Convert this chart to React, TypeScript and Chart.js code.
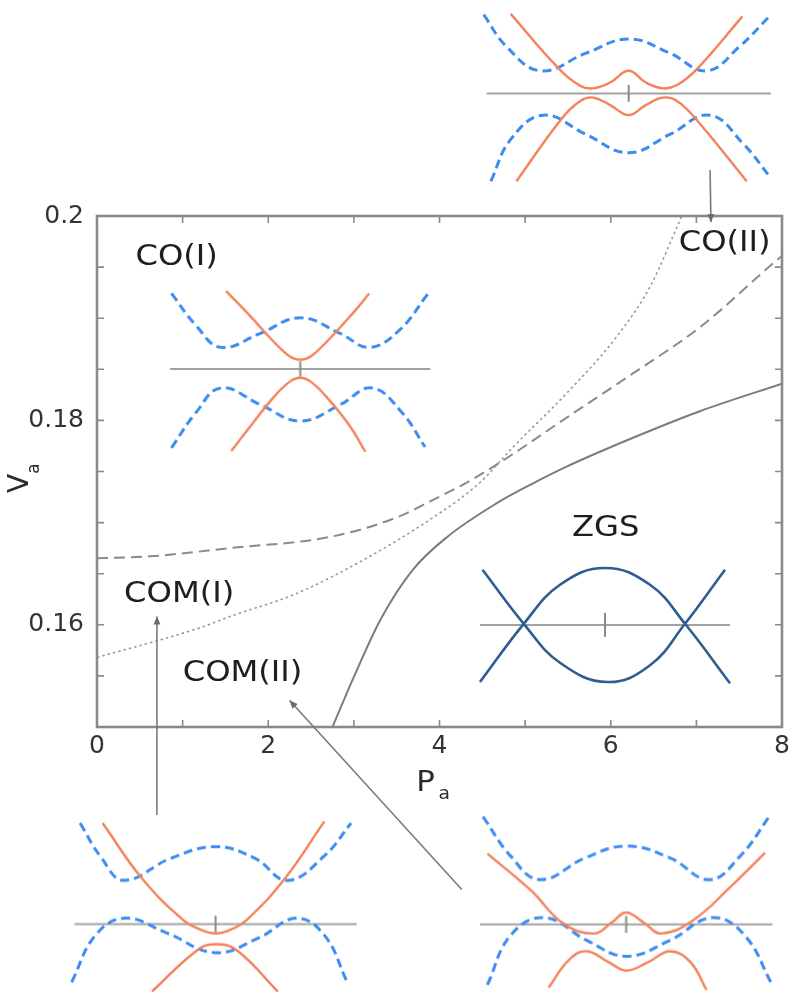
import React, { useEffect, useRef } from "react";
import { Chart, registerables } from "chart.js";
Chart.register(...registerables);

// ---------- main chart data ----------
const P_SOLID = [2.75, 3.0, 3.31, 3.69, 4.09, 4.67, 5.06, 5.49, 6.26, 7.04, 8.0];
const V_SOLID = [0.15, 0.1549, 0.1605, 0.1654, 0.1686, 0.1719, 0.1737, 0.1755, 0.1783, 0.1809, 0.1836];

const P_DASH = [0, 0.62, 1.55, 2.72, 3.5, 3.92, 4.27, 4.71, 5.49, 6.26, 7.04, 7.9, 8.0];
const V_DASH = [0.1665, 0.1667, 0.1675, 0.1686, 0.1705, 0.1722, 0.1737, 0.1759, 0.1803, 0.1846, 0.1891, 0.1954, 0.1961];

const P_DOT = [0, 1.2, 1.55, 2.34, 3.1, 3.89, 4.47, 4.86, 5.49, 6.07, 6.46, 6.83];
const V_DOT = [0.1568, 0.1597, 0.1608, 0.1631, 0.1663, 0.1703, 0.1739, 0.1774, 0.1827, 0.1882, 0.1931, 0.2];

const X_LABEL_TICKS = [0, 2, 4, 6, 8];
const Y_LABEL_TICKS = [0.16, 0.18, 0.2];
const X_MINOR_TICKS = [1, 2, 3, 4, 5, 6, 7];
const Y_MINOR_TICKS = [0.155, 0.16, 0.165, 0.17, 0.175, 0.18, 0.185, 0.19, 0.195];

const REGION_LABELS = [
  { text: "CO(I)", p: 0.93, v: 0.1959 },
  { text: "CO(II)", p: 7.33, v: 0.1973 },
  { text: "COM(I)", p: 0.96, v: 0.1629 },
  { text: "COM(II)", p: 1.7, v: 0.1552 },
  { text: "ZGS", p: 5.94, v: 0.1694 },
];

const ARROWS = [
  { from: [0.7, 0.1414], to: [0.7, 0.1608] },
  { from: [4.26, 0.1341], to: [2.25, 0.1526] },
  { from: [7.16, 0.2045], to: [7.17, 0.1994] },
];

// ---------- inset band sketches (k, E) ----------
const INSET_LINE = [[-1, 0], [1, 0]];
const INSET_TICK = [[0, -0.1], [0, 0.1]];
const ZGS_TICK = [[0, -0.2], [0, 0.2]];

const CO1_BLUE_UP = [[-0.99, 0.96], [-0.8, 0.55], [-0.61, 0.275], [-0.31, 0.45], [0, 0.65], [0.31, 0.45], [0.53, 0.275], [0.76, 0.49], [0.98, 0.95]];
const CO1_BLUE_DN = [[-0.99, -1.0], [-0.8, -0.55], [-0.61, -0.24], [-0.31, -0.45], [0, -0.66], [0.31, -0.45], [0.55, -0.24], [0.78, -0.55], [0.96, -0.99]];
const CO1_ORANGE_UP = [[-0.57, 0.99], [-0.4, 0.7], [-0.2, 0.34], [-0.08, 0.16], [0, 0.12], [0.08, 0.16], [0.2, 0.34], [0.4, 0.7], [0.53, 0.96]];
const CO1_ORANGE_DN = [[-0.53, -1.04], [-0.38, -0.72], [-0.2, -0.35], [-0.08, -0.16], [0, -0.11], [0.08, -0.16], [0.2, -0.35], [0.38, -0.72], [0.5, -1.05]];

const CO2_BLUE_UP = [[-1.02, 0.94], [-0.86, 0.56], [-0.62, 0.27], [-0.3, 0.48], [0, 0.65], [0.29, 0.48], [0.55, 0.27], [0.78, 0.56], [0.99, 0.92]];
const CO2_BLUE_DN = [[-0.97, -1.05], [-0.83, -0.55], [-0.6, -0.26], [-0.3, -0.49], [0, -0.71], [0.29, -0.49], [0.57, -0.26], [0.81, -0.61], [0.99, -0.99]];
const CO2_ORANGE_UP = [[-0.83, 0.95], [-0.5, 0.31], [-0.34, 0.09], [-0.25, 0.06], [-0.13, 0.13], [0, 0.27], [0.12, 0.13], [0.24, 0.06], [0.34, 0.1], [0.48, 0.29], [0.8, 0.92]];
const CO2_ORANGE_DN = [[-0.79, -1.05], [-0.48, -0.32], [-0.34, -0.09], [-0.25, -0.05], [-0.13, -0.14], [0, -0.26], [0.12, -0.14], [0.24, -0.05], [0.34, -0.09], [0.48, -0.32], [0.83, -1.05]];

const COM1_BLUE_UP = [[-0.96, 1.2], [-0.81, 0.79], [-0.65, 0.52], [-0.32, 0.78], [0, 0.92], [0.28, 0.78], [0.51, 0.52], [0.77, 0.81], [0.96, 1.2]];
const COM1_BLUE_DN = [[-1.02, -0.69], [-0.85, -0.13], [-0.64, 0.07], [-0.34, -0.11], [0, -0.34], [0.31, -0.16], [0.57, 0.07], [0.77, -0.13], [0.93, -0.68]];
const COM1_ORANGE_UP = [[-0.8, 1.2], [-0.52, 0.54], [-0.23, 0.05], [-0.1, -0.07], [0, -0.11], [0.1, -0.07], [0.22, 0.05], [0.49, 0.54], [0.77, 1.22]];
const COM1_ORANGE_DN = [[-0.45, -0.8], [-0.13, -0.31], [0, -0.24], [0.15, -0.31], [0.44, -0.8]];

const COM2_BLUE_UP = [[-0.98, 1.28], [-0.79, 0.81], [-0.59, 0.53], [-0.28, 0.79], [0, 0.93], [0.3, 0.79], [0.57, 0.53], [0.78, 0.81], [0.98, 1.28]];
const COM2_BLUE_DN = [[-0.95, -0.72], [-0.79, -0.13], [-0.56, 0.08], [-0.27, -0.19], [0, -0.38], [0.3, -0.19], [0.59, 0.08], [0.81, -0.13], [1.0, -0.72]];
const COM2_ORANGE_UP = [[-0.95, 0.84], [-0.65, 0.4], [-0.43, 0.01], [-0.22, -0.11], [-0.1, 0.02], [0, 0.14], [0.12, 0.02], [0.24, -0.11], [0.46, 0.05], [0.71, 0.44], [0.95, 0.85]];
const COM2_ORANGE_DN = [[-0.53, -0.75], [-0.39, -0.42], [-0.27, -0.32], [-0.12, -0.45], [0, -0.55], [0.15, -0.45], [0.3, -0.32], [0.44, -0.45], [0.55, -0.78]];

const ZGS_A = [[-0.98, 0.92], [-0.65, 0.02], [-0.36, -0.63], [0.02, -0.95], [0.36, -0.67], [0.64, 0.02], [0.96, 0.92]];
const ZGS_B = [[-1.0, -0.95], [-0.65, 0.02], [-0.36, 0.67], [0, 0.95], [0.36, 0.67], [0.64, 0.02], [1.0, -0.97]];

// ---------- styling ----------
const FONT = '"DejaVu Sans", "Liberation Sans", sans-serif';
const BLUE = "#3d8df0";
const ORANGE = "#f4825a";
const NAVY = "#2f5d93";
const GRAY_LINE = "#a2a2a2";

const INSETS = [
  { name: "CO(I)", cx: 300, cy: 369, hw: 131, hh: 80, yMin: -1.25, yMax: 1.2, kind: "band", sets: [CO1_ORANGE_UP, CO1_ORANGE_DN, CO1_BLUE_UP, CO1_BLUE_DN] },
  { name: "CO(II)", cx: 628.5, cy: 93, hw: 143.5, hh: 85, yMin: -1.25, yMax: 1.05, kind: "band", sets: [CO2_ORANGE_UP, CO2_ORANGE_DN, CO2_BLUE_UP, CO2_BLUE_DN] },
  { name: "COM(I)", cx: 215.5, cy: 924, hw: 142.5, hh: 85, yMin: -0.9, yMax: 1.35, kind: "band", sets: [COM1_ORANGE_UP, COM1_ORANGE_DN, COM1_BLUE_UP, COM1_BLUE_DN] },
  { name: "COM(II)", cx: 626, cy: 924, hw: 147, hh: 85, yMin: -0.9, yMax: 1.4, kind: "band", sets: [COM2_ORANGE_UP, COM2_ORANGE_DN, COM2_BLUE_UP, COM2_BLUE_DN] },
  { name: "ZGS", cx: 605, cy: 625, hw: 125, hh: 60, yMin: -1.25, yMax: 1.25, kind: "zgs", sets: [ZGS_A, ZGS_B] },
];
const INSET_XPAD = 1.12;

function lineSet(pts: number[][], color: string, width: number, dash: number[] = []) {
  return {
    data: pts.map(([x, y]) => ({ x, y })),
    borderColor: color,
    borderWidth: width,
    borderDash: dash,
    pointRadius: 0,
    fill: false,
    clip: false,
    tension: 0.42,
    capBezierPoints: false,
  };
}

function insetConfig(ins: any) {
  let datasets: any[];
  if (ins.kind === "band") {
    const [ou, od, bu, bd] = ins.sets;
    datasets = [
      lineSet(ou, ORANGE, 2.4),
      lineSet(od, ORANGE, 2.4),
      lineSet(bu, BLUE, 3, [9, 5]),
      lineSet(bd, BLUE, 3, [9, 5]),
      lineSet(INSET_TICK, "#8a8a8a", 2),
      lineSet(INSET_LINE, GRAY_LINE, 2),
    ];
  } else {
    datasets = [
      lineSet(ins.sets[0], NAVY, 2.6),
      lineSet(ins.sets[1], NAVY, 2.6),
      lineSet(ZGS_TICK, "#8a8a8a", 2),
      lineSet(INSET_LINE, GRAY_LINE, 2),
    ];
  }
  return {
    type: "line",
    data: { datasets },
    options: {
      animation: false,
      responsive: true,
      maintainAspectRatio: false,
      events: [],
      layout: { padding: 0 },
      plugins: { legend: { display: false }, tooltip: { enabled: false } },
      scales: {
        x: { type: "linear", display: false, min: -INSET_XPAD, max: INSET_XPAD },
        y: { type: "linear", display: false, min: ins.yMin, max: ins.yMax },
      },
    },
  };
}

function drawArrow(ctx: CanvasRenderingContext2D, x1: number, y1: number, x2: number, y2: number) {
  ctx.beginPath();
  ctx.moveTo(x1, y1);
  ctx.lineTo(x2, y2);
  ctx.stroke();
  const a = Math.atan2(y2 - y1, x2 - x1);
  const L = 8, W = 3.5;
  const c = Math.cos(a), s = Math.sin(a);
  ctx.beginPath();
  ctx.moveTo(x2, y2);
  ctx.lineTo(x2 - L * c + W * s, y2 - L * s - W * c);
  ctx.lineTo(x2 - L * c - W * s, y2 - L * s + W * c);
  ctx.closePath();
  ctx.fill();
}

const framePlugin = {
  id: "framePlugin",
  afterDraw(chart: any) {
    const { ctx, chartArea: a, scales } = chart;
    const xs = scales.x, ys = scales.y;
    ctx.save();
    // frame
    ctx.strokeStyle = "#8a8a8a";
    ctx.lineWidth = 2.6;
    ctx.strokeRect(a.left, a.top, a.right - a.left, a.bottom - a.top);
    // inward ticks
    ctx.lineWidth = 1.6;
    ctx.beginPath();
    X_MINOR_TICKS.forEach((v) => {
      const px = xs.getPixelForValue(v);
      ctx.moveTo(px, a.bottom); ctx.lineTo(px, a.bottom - 7);
      ctx.moveTo(px, a.top); ctx.lineTo(px, a.top + 7);
    });
    Y_MINOR_TICKS.forEach((v) => {
      const py = ys.getPixelForValue(v);
      ctx.moveTo(a.left, py); ctx.lineTo(a.left + 7, py);
      ctx.moveTo(a.right, py); ctx.lineTo(a.right - 7, py);
    });
    ctx.stroke();
    // arrows
    ctx.strokeStyle = "#7a7a7a";
    ctx.fillStyle = "#6a6a6a";
    ctx.lineWidth = 1.6;
    ARROWS.forEach((ar) => {
      drawArrow(
        ctx,
        xs.getPixelForValue(ar.from[0]), ys.getPixelForValue(ar.from[1]),
        xs.getPixelForValue(ar.to[0]), ys.getPixelForValue(ar.to[1])
      );
    });
    // region labels
    ctx.fillStyle = "#1e1e1e";
    ctx.font = `28px ${FONT}`;
    ctx.textAlign = "center";
    ctx.textBaseline = "middle";
    REGION_LABELS.forEach((l) => {
      ctx.save();
      ctx.translate(xs.getPixelForValue(l.p), ys.getPixelForValue(l.v));
      ctx.scale(1.15, 1);
      ctx.fillText(l.text, 0, 0);
      ctx.restore();
    });
    // axis titles
    ctx.fillStyle = "#2a2a2a";
    const px = (a.left + a.right) / 2 - 14;
    const py = a.bottom + 57;
    ctx.save();
    ctx.translate(px, py);
    ctx.scale(1.1, 1);
    ctx.font = `28px ${FONT}`;
    ctx.fillText("P", 0, 0);
    ctx.font = `17px ${FONT}`;
    ctx.fillText("a", 17, 11);
    ctx.restore();
    ctx.save();
    ctx.translate(a.left - 76, (a.top + a.bottom) / 2 + 12);
    ctx.rotate(-Math.PI / 2);
    ctx.font = `28px ${FONT}`;
    ctx.fillText("V", 0, 0);
    ctx.font = `17px ${FONT}`;
    ctx.fillText("a", 15, 14);
    ctx.restore();
    ctx.restore();
  },
};

function mainConfig() {
  const toPts = (xs: number[], ys: number[]) => xs.map((x, i) => ({ x, y: ys[i] }));
  return {
    type: "line",
    data: {
      datasets: [
        { data: toPts(P_SOLID, V_SOLID), borderColor: "#7c7c7c", borderWidth: 2, pointRadius: 0, fill: false, cubicInterpolationMode: "monotone" },
        { data: toPts(P_DASH, V_DASH), borderColor: "#8a8a8a", borderWidth: 2, borderDash: [11, 6], pointRadius: 0, fill: false, cubicInterpolationMode: "monotone" },
        { data: toPts(P_DOT, V_DOT), borderColor: "#9a9a9a", borderWidth: 1.6, borderDash: [2.5, 3], pointRadius: 0, fill: false, cubicInterpolationMode: "monotone" },
      ],
    },
    options: {
      animation: false,
      responsive: true,
      maintainAspectRatio: false,
      events: [],
      layout: { padding: { left: 0, top: 216, right: 27, bottom: 0 } },
      plugins: { legend: { display: false }, tooltip: { enabled: false } },
      scales: {
        x: {
          type: "linear",
          min: 0,
          max: 8,
          grid: { display: false },
          border: { display: false },
          ticks: { padding: -4, color: "#333", font: { family: FONT, size: 25 }, maxRotation: 0 },
          afterBuildTicks: (s: any) => { s.ticks = X_LABEL_TICKS.map((v) => ({ value: v })); },
          afterFit: (s: any) => { s.height = 273; s.paddingLeft = 0; s.paddingRight = 0; },
        },
        y: {
          type: "linear",
          min: 0.15,
          max: 0.2,
          grid: { display: false },
          border: { display: false },
          ticks: { padding: 5, color: "#333", font: { family: FONT, size: 25 }, callback: (v: number) => String(v) },
          afterBuildTicks: (s: any) => { s.ticks = Y_LABEL_TICKS.map((v) => ({ value: v })); },
          afterFit: (s: any) => { s.width = 97; s.paddingTop = 0; s.paddingBottom = 0; },
        },
      },
    },
    plugins: [framePlugin],
  };
}

function ChartBox({ box, build }: { box: { left: number; top: number; width: number; height: number }; build: () => any }) {
  const ref = useRef<HTMLCanvasElement>(null);
  useEffect(() => {
    const chart = new Chart(ref.current as HTMLCanvasElement, build());
    return () => chart.destroy();
  }, []);
  return (
    <div style={{ position: "absolute", left: box.left, top: box.top, width: box.width, height: box.height, pointerEvents: "none" }}>
      <canvas ref={ref} />
    </div>
  );
}

export default function App() {
  useEffect(() => {
    document.body.style.margin = "0";
  }, []);
  return (
    <div style={{ position: "relative", width: 809, height: 1000, background: "#fff", overflow: "hidden" }}>
      <ChartBox box={{ left: 0, top: 0, width: 809, height: 1000 }} build={mainConfig} />
      {INSETS.map((ins) => {
        const box = {
          left: ins.cx - INSET_XPAD * ins.hw,
          top: ins.cy - ins.yMax * ins.hh,
          width: 2 * INSET_XPAD * ins.hw,
          height: (ins.yMax - ins.yMin) * ins.hh,
        };
        return <ChartBox key={ins.name} box={box} build={() => insetConfig(ins)} />;
      })}
    </div>
  );
}
